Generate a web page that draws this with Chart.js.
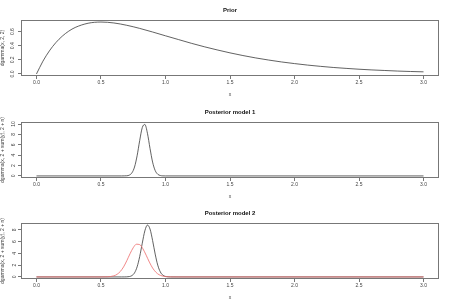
<!DOCTYPE html>
<html><head><meta charset="utf-8">
<script src="https://cdn.jsdelivr.net/npm/chart.js@4"></script>
<style>html,body{margin:0;padding:0;background:#fff;overflow:hidden;width:450px;height:305px}
canvas{position:absolute;left:0}
</style></head><body>
<canvas id="c1" width="450" height="101" style="top:0px"></canvas>
<canvas id="c2" width="450" height="101" style="top:102px"></canvas>
<canvas id="c3" width="450" height="101" style="top:203px"></canvas>
<script>
// ---- data ----
const xTicks = [0, 0.5, 1.0, 1.5, 2.0, 2.5, 3.0];
const priorYTicks = [0, 0.2, 0.4, 0.6];
const post1YTicks = [0, 2, 4, 6, 8, 10];
const post2YTicks = [0, 2, 4, 6, 8];

const priorX = [0,0.05,0.1,0.15,0.2,0.25,0.3,0.4,0.5,0.6,0.7,0.8,0.9,1.0,1.1,1.2,1.3,1.4,1.5,1.6,1.7,1.8,1.9,2.0,2.1,2.2,2.3,2.4,2.5,2.6,2.7,2.8,2.9,3.0];
const priorY = [0,0.181,0.327,0.444,0.536,0.607,0.659,0.719,0.736,0.723,0.690,0.646,0.595,0.541,0.488,0.435,0.386,0.341,0.299,0.261,0.227,0.197,0.170,0.147,0.126,0.108,0.092,0.079,0.067,0.057,0.049,0.041,0.035,0.030];

const post1X = [0,0.66,0.68,0.70,0.72,0.74,0.76,0.78,0.80,0.82,0.84,0.86,0.88,0.90,0.92,0.94,0.96,0.98,1.00,3.0];
const post1Y = [0,0,0.01,0.03,0.16,0.60,1.72,3.89,6.82,9.32,9.92,8.23,5.31,2.67,1.04,0.32,0.08,0.01,0,0];

const post2BlackX = [0,0.66,0.68,0.70,0.72,0.74,0.76,0.78,0.80,0.82,0.84,0.86,0.88,0.90,0.92,0.94,0.96,0.98,1.00,1.02,1.04,3.0];
const post2BlackY = [0,0,0.005,0.015,0.064,0.23,0.69,1.71,3.45,5.72,7.82,8.80,8.13,6.19,3.88,2.00,0.85,0.29,0.085,0.02,0,0];

const post2RedX = [0,0.45,0.50,0.55,0.60,0.625,0.65,0.675,0.70,0.725,0.75,0.775,0.80,0.825,0.85,0.875,0.90,0.925,0.95,0.975,1.00,1.05,1.10,3.0];
const post2RedY = [0,0,0.002,0.024,0.19,0.45,0.93,1.70,2.75,3.93,4.96,5.55,5.48,4.78,3.69,2.52,1.52,0.81,0.38,0.16,0.06,0.006,0,0];

// ---- helpers ----
const FAM = '"Liberation Sans", Arial, sans-serif';
function pts(xs, ys) { return xs.map((x, i) => ({x: x, y: ys[i]})); }

const boxPlugin = {
  id: 'box',
  afterDraw(chart, args, opts) {
    const a = chart.chartArea, ctx = chart.ctx;
    ctx.save();
    ctx.strokeStyle = '#777';
    ctx.lineWidth = 1;
    ctx.strokeRect(Math.round(a.left) + 0.5, Math.round(a.top) + 0.5,
                   Math.round(a.right - a.left) - 1, Math.round(a.bottom - a.top) - 1);
    ctx.fillStyle = '#111';
    ctx.font = 'bold 6px ' + FAM;
    ctx.textAlign = 'center';
    ctx.textBaseline = 'middle';
    ctx.fillText(opts.text, (a.left + a.right) / 2, 10);
    ctx.restore();
  }
};

function makeChart(id, title, yTitle, datasets, yMin, yMax, yTicks, yFmt) {
  return new Chart(document.getElementById(id), {
    type: 'line',
    data: { datasets: datasets },
    plugins: [boxPlugin],
    options: {
      responsive: false,
      animation: false,
      events: [],
      layout: { padding: { top: 20, right: 11, left: 0, bottom: 0 } },
      elements: { point: { radius: 0 }, line: { borderWidth: 0.8, cubicInterpolationMode: 'monotone' } },
      plugins: { legend: { display: false }, tooltip: { enabled: false }, box: { text: title } },
      scales: {
        x: {
          type: 'linear', min: -0.12, max: 3.12,
          afterBuildTicks: s => { s.ticks = xTicks.map(v => ({ value: v })); },
          afterFit: s => { s.height = 25; },
          ticks: { font: { size: 5, family: FAM }, color: '#444', padding: 1, maxRotation: 0, autoSkip: false,
                   callback: v => Number(v).toFixed(1) },
          grid: { drawOnChartArea: false, tickLength: 3, color: '#777' },
          border: { display: false },
          title: { display: true, text: 'x', color: '#444', font: { size: 5, family: FAM }, padding: { top: 0, bottom: 3 } }
        },
        y: {
          type: 'linear', min: yMin, max: yMax,
          afterBuildTicks: s => { s.ticks = yTicks.map(v => ({ value: v })); },
          afterFit: s => { s.width = 21; },
          ticks: { font: { size: 5, family: FAM }, color: '#444', padding: 2, minRotation: 90, maxRotation: 90,
                   crossAlign: 'center', autoSkip: false, callback: yFmt },
          grid: { drawOnChartArea: false, tickLength: 3, color: '#777' },
          border: { display: false },
          title: { display: true, text: yTitle, color: '#444', font: { size: 5, family: FAM }, padding: 0 }
        }
      }
    }
  });
}

makeChart('c1', 'Prior', 'dgamma(x, 2, 2)',
  [{ data: pts(priorX, priorY), borderColor: '#3a3a3a' }],
  -0.029, 0.765, priorYTicks, v => Number(v).toFixed(1));

makeChart('c2', 'Posterior model 1', 'dgamma(x, 2 + sum(y), 2 + n)',
  [{ data: pts(post1X, post1Y), borderColor: '#3a3a3a' }],
  -0.4, 10.4, post1YTicks, v => String(v));

makeChart('c3', 'Posterior model 2', 'dgamma(x, 2 + sum(y), 2 + n)',
  [{ data: pts(post2RedX, post2RedY), borderColor: '#ee6a6a' },
   { data: pts(post2BlackX, post2BlackY), borderColor: '#3a3a3a' }],
  -0.35, 9.15, post2YTicks, v => String(v));
</script>
</body></html>
